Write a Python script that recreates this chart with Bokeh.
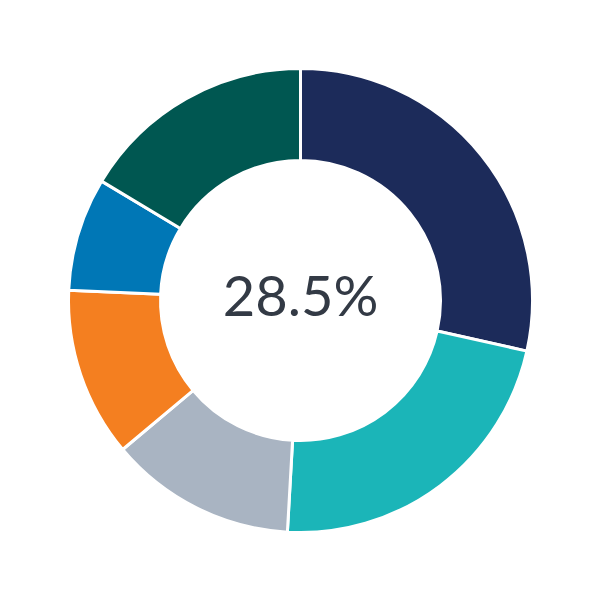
import math
from bokeh.plotting import figure
from bokeh.models import ColumnDataSource
from bokeh.core.properties import value
from bokeh.embed import file_html
from bokeh.resources import INLINE

categories = ["A", "B", "C", "D", "E", "F"]
values = [28.5, 22.4, 13.0, 11.8, 7.9, 16.4]
colors = ["#1c2b5a", "#1bb5b8", "#a9b4c2", "#f47f20", "#0077b6", "#005751"]
center_label = "28.5%"

total = sum(values)
starts, ends = [], []
acc = 0.0
for v in values:
    a0 = math.pi / 2 - 2 * math.pi * acc / total
    acc += v
    a1 = math.pi / 2 - 2 * math.pi * acc / total
    starts.append(a0)
    ends.append(a1)

src = ColumnDataSource(dict(cat=categories, val=values, color=colors, start=starts, end=ends))

p = figure(width=584, height=584, x_range=(-300, 284), y_range=(-284, 300),
           output_backend="svg", toolbar_location=None, min_border=0)
p.axis.visible = False
p.grid.visible = False
p.outline_line_color = None

p.annular_wedge(x=0, y=0, inner_radius=140, outer_radius=232, start_angle="start", end_angle="end",
                direction="clock", fill_color="color", line_color="white", line_width=3, source=src)

p.text(x=[0], y=[6], text=[center_label], text_font=value("Lato"), text_font_size="56px",
       text_color="#333a45", text_align="center", text_baseline="middle")

open("out.html", "w").write(file_html(p, INLINE))
